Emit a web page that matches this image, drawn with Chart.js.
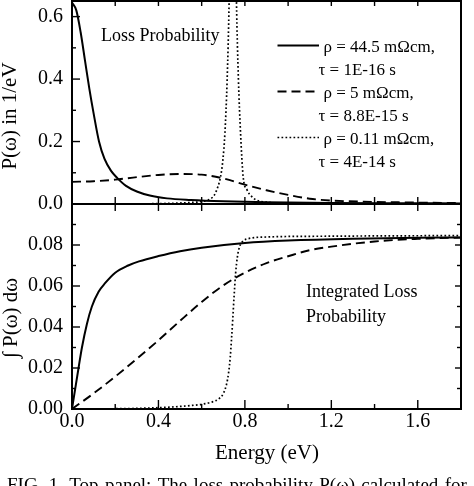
<!DOCTYPE html>
<html><head><meta charset="utf-8">
<script src="https://cdn.jsdelivr.net/npm/chart.js@4.4.1/dist/chart.umd.min.js"></script>
<style>
html,body{margin:0;padding:0;background:#fff;overflow:hidden;width:474px;height:486px}
canvas{position:absolute;left:0;top:0}
</style></head>
<body>
<canvas id="cTop" width="474" height="486"></canvas>
<canvas id="cBot" width="474" height="486"></canvas>
<script>
// ---------- data ----------
const energyTicks = [0, 0.4, 0.8, 1.2, 1.6];
const energyMinor = [0.2, 0.6, 1.0, 1.4];
const topTicks = [0, 0.2, 0.4, 0.6];
const topMinor = [0.1, 0.3, 0.5];
const bottomTicks = [0, 0.02, 0.04, 0.06, 0.08];
const bottomMinor = [0.01, 0.03, 0.05, 0.07, 0.09];

const seriesLabels = [
  ['\u03C1 = 44.5 m\u03A9cm,', '\u03C4 = 1E-16 s'],
  ['\u03C1 = 5 m\u03A9cm,', '\u03C4 = 8.8E-15 s'],
  ['\u03C1 = 0.11 m\u03A9cm,', '\u03C4 = 4E-14 s']
];

// top panel: loss probability P(w)
const solidTopE = [0, 0.02, 0.04, 0.06, 0.08, 0.10, 0.125, 0.15, 0.18, 0.21, 0.25, 0.30, 0.36, 0.44, 0.55, 0.70, 0.90, 1.20, 1.50, 1.80];
const solidTopP = [0.645, 0.62, 0.55, 0.46, 0.37, 0.29, 0.20, 0.145, 0.107, 0.083, 0.058, 0.040, 0.027, 0.018, 0.013, 0.009, 0.006, 0.0035, 0.0025, 0.002];

const dashTopE = [0, 0.1, 0.2, 0.3, 0.4, 0.5, 0.6, 0.7, 0.8, 0.9, 1.0, 1.1, 1.2, 1.35, 1.5, 1.65, 1.8];
const dashTopP = [0.071, 0.073, 0.078, 0.086, 0.093, 0.096, 0.094, 0.082, 0.062, 0.044, 0.029, 0.017, 0.011, 0.0075, 0.0055, 0.004, 0.003];

const dotTopE = [0, 0.3, 0.45, 0.55, 0.6, 0.64, 0.66, 0.675, 0.6875, 0.698, 0.7075, 0.718, 0.727, 0.736, 0.744, 0.752, 0.761, 0.770, 0.780, 0.792, 0.81, 0.83, 0.855, 0.9, 1.0, 1.2, 1.8];
const dotTopP = [0, 0.0005, 0.002, 0.005, 0.008, 0.016, 0.03, 0.055, 0.087, 0.14, 0.226, 0.40, 0.65, 1.1, 1.5, 1.1, 0.65, 0.40, 0.226, 0.087, 0.045, 0.025, 0.012, 0.006, 0.002, 0.001, 0];

// bottom panel: integrated loss probability
const solidBotE = [0, 0.015, 0.031, 0.046, 0.069, 0.092, 0.123, 0.154, 0.2, 0.26, 0.31, 0.4, 0.5, 0.6, 0.8, 1.0, 1.3, 1.6, 1.8];
const solidBotV = [0, 0.0100, 0.0205, 0.0300, 0.0415, 0.0500, 0.0572, 0.0615, 0.0665, 0.0700, 0.0720, 0.0746, 0.0770, 0.0787, 0.0810, 0.0822, 0.0831, 0.0835, 0.0837];

const dashBotE = [0, 0.1, 0.2, 0.3, 0.4, 0.5, 0.6, 0.7, 0.8, 0.9, 1.0, 1.1, 1.2, 1.3, 1.4, 1.5, 1.6, 1.7, 1.8];
const dashBotV = [0, 0.0076, 0.0158, 0.0245, 0.0335, 0.0430, 0.0522, 0.0603, 0.0665, 0.0712, 0.0745, 0.0775, 0.0792, 0.0806, 0.0817, 0.0825, 0.0830, 0.0834, 0.0836];

const dotBotE = [0, 0.3, 0.45, 0.55, 0.6, 0.65, 0.68, 0.70, 0.715, 0.725, 0.732, 0.738, 0.744, 0.75, 0.757, 0.765, 0.775, 0.79, 0.82, 0.9, 1.2, 1.8];
const dotBotV = [0, 0.0003, 0.0009, 0.0017, 0.0023, 0.0035, 0.005, 0.0075, 0.012, 0.018, 0.025, 0.034, 0.044, 0.055, 0.066, 0.074, 0.079, 0.0818, 0.0832, 0.0839, 0.0843, 0.0846];

// ---------- rendering ----------
const FAMILY = "'Liberation Serif', 'Times New Roman', serif";
Chart.defaults.font.family = FAMILY;
Chart.defaults.color = '#000';

const pts = (E, V) => E.map((e, i) => ({x: e, y: V[i]}));
const styles = [
  {borderDash: [], borderWidth: 2},
  {borderDash: [9, 5], borderWidth: 1.9},
  {borderDash: [1.7, 2.3], borderWidth: 1.7}
];
const mkSet = (E, V, k) => ({
  data: pts(E, V), borderColor: '#000', borderWidth: styles[k].borderWidth,
  borderDash: styles[k].borderDash, pointRadius: 0, fill: false,
  cubicInterpolationMode: 'monotone', borderCapStyle: 'butt'
});

const framePlugin = {
  id: 'frame',
  afterDatasetsDraw(chart, args, o) {
    const {ctx, chartArea: a, scales} = chart;
    ctx.save();
    ctx.strokeStyle = '#000';
    ctx.lineWidth = 1.4;
    const ln = (x1, y1, x2, y2) => { ctx.beginPath(); ctx.moveTo(x1, y1); ctx.lineTo(x2, y2); ctx.stroke(); };
    const xs = scales.x, ys = scales.y;
    const allX = energyTicks.map(v => [v, true]).concat(energyMinor.map(v => [v, false]));
    allX.forEach(([v, major]) => {
      const px = xs.getPixelForValue(v);
      if (o.topLen) ln(px, a.top, px, a.top + o.topLen);
      if (o.bottomMajor) ln(px, a.bottom, px, a.bottom - (major ? o.bottomMajor : o.bottomMinor));
    });
    o.yMajor.forEach(v => {
      const py = ys.getPixelForValue(v);
      ln(a.left, py, a.left + 8, py);
      if (o.right) ln(a.right, py, a.right - 6, py);
    });
    o.yMinor.forEach(v => {
      const py = ys.getPixelForValue(v);
      ln(a.left, py, a.left + 4, py);
      if (o.right) ln(a.right, py, a.right - 4, py);
    });
    ctx.lineWidth = 2;
    ctx.strokeRect(a.left, a.top, a.right - a.left, a.bottom - a.top);

    ctx.fillStyle = '#000';
    (o.texts || []).forEach(t => {
      ctx.save();
      ctx.font = t.size + 'px ' + FAMILY;
      ctx.textAlign = t.align || 'left';
      ctx.textBaseline = t.baseline || 'alphabetic';
      ctx.translate(t.x, t.y);
      if (t.rot) ctx.rotate(t.rot);
      if (t.spacing) ctx.wordSpacing = t.spacing + 'px';
      ctx.fillText(t.text, 0, 0);
      ctx.restore();
    });

    if (o.legend) {
      const L = o.legend;
      ctx.font = L.size + 'px ' + FAMILY;
      ctx.textAlign = 'left';
      ctx.textBaseline = 'alphabetic';
      seriesLabels.forEach((lab, i) => {
        const ds = chart.data.datasets[i];
        const y1 = L.y0 + i * 2 * L.row;
        ctx.save();
        ctx.lineWidth = ds.borderWidth;
        ctx.setLineDash(ds.borderDash);
        ln(L.lineX0, y1 - 6.5, L.lineX1, y1 - 6.5);
        ctx.restore();
        ctx.fillText(lab[0], L.textX, y1);
        ctx.fillText(lab[1], L.tauX, y1 + L.row);
      });
    }
    ctx.restore();
  }
};

const yAxis = (min, max, ticksArr, digits) => ({
  type: 'linear', min, max,
  afterBuildTicks: s => { s.ticks = ticksArr.map(v => ({value: v})); },
  ticks: {font: {size: 20, family: FAMILY}, color: '#000', padding: 9,
          callback: v => Number(v).toFixed(digits)},
  grid: {display: false, drawTicks: false},
  border: {display: false},
  afterFit: s => { s.width = 72; s.paddingTop = 0; s.paddingBottom = 0; }
});

new Chart(document.getElementById('cTop'), {
  type: 'line',
  data: {datasets: [
    mkSet(solidTopE, solidTopP, 0),
    mkSet(dashTopE, dashTopP, 1),
    mkSet(dotTopE, dotTopP, 2)
  ]},
  options: {
    responsive: false, animation: false, events: [],
    layout: {autoPadding: false, padding: {left: 0, top: 1, right: 13, bottom: 282}},
    scales: {
      x: {type: 'linear', min: 0, max: 1.8, display: false},
      y: yAxis(0, 0.65, topTicks, 1)
    },
    plugins: {
      legend: {display: false}, tooltip: {enabled: false},
      frame: {
        topLen: 5, bottomMajor: 7, bottomMinor: 7, right: false,
        yMajor: topTicks, yMinor: topMinor,
        texts: [
          {text: 'Loss Probability', x: 101, y: 40.5, size: 18},
          {text: 'P(\u03C9) in 1/eV', x: 10, y: 116, size: 21, align: 'center', baseline: 'middle', rot: -Math.PI / 2}
        ],
        legend: {size: 17, y0: 52, row: 23, lineX0: 277.5, lineX1: 319, textX: 323.5, tauX: 318.5}
      }
    }
  },
  plugins: [framePlugin]
});

new Chart(document.getElementById('cBot'), {
  type: 'line',
  data: {datasets: [
    mkSet(solidBotE, solidBotV, 0),
    mkSet(dashBotE, dashBotV, 1),
    mkSet(dotBotE, dotBotV, 2)
  ]},
  options: {
    responsive: false, animation: false, events: [],
    layout: {autoPadding: false, padding: {left: 0, top: 204, right: 13, bottom: 0}},
    scales: {
      x: {
        type: 'linear', min: 0, max: 1.8,
        afterBuildTicks: s => { s.ticks = energyTicks.map(v => ({value: v})); },
        ticks: {font: {size: 20, family: FAMILY, lineHeight: 1.2}, color: '#000', padding: 1,
                maxRotation: 0, autoSkip: false, callback: v => Number(v).toFixed(1)},
        grid: {display: false, drawTicks: false},
        border: {display: false},
        afterFit: s => { s.height = 77; s.paddingLeft = 0; s.paddingRight = 0; }
      },
      y: yAxis(0, 0.1, bottomTicks, 2)
    },
    plugins: {
      legend: {display: false}, tooltip: {enabled: false},
      frame: {
        topLen: 7, bottomMajor: 9, bottomMinor: 5, right: true,
        yMajor: bottomTicks, yMinor: bottomMinor,
        texts: [
          {text: 'Integrated Loss', x: 306, y: 296.5, size: 18},
          {text: 'Probability', x: 306, y: 321.5, size: 18},
          {text: '\u222B P(\u03C9) d\u03C9', x: 11, y: 318, size: 21, align: 'center', baseline: 'middle', rot: -Math.PI / 2},
          {text: 'Energy (eV)', x: 267, y: 459, size: 21, align: 'center'},
          {text: 'FIG. 1. Top panel: The loss probability P(\u03C9) calculated for', x: 7, y: 491, size: 19, spacing: 1.6}
        ]
      }
    }
  },
  plugins: [framePlugin]
});
</script>
</body></html>
